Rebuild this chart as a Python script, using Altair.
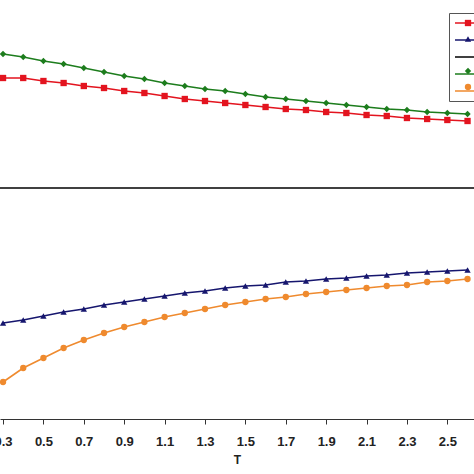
import altair as alt
import pandas as pd

# Horizon values
T = [0.3, 0.4, 0.5, 0.6, 0.7, 0.8, 0.9, 1.0, 1.1, 1.2, 1.3, 1.4,
     1.5, 1.6, 1.7, 1.8, 1.9, 2.0, 2.1, 2.2, 2.3, 2.4, 2.5, 2.6]

series_names = ["Series 1", "Series 2", "Series 3", "Series 4", "Series 5"]

red_vals = [1.10, 1.10, 1.07, 1.05, 1.02, 1.00, 0.97, 0.95, 0.92, 0.89, 0.87, 0.85,
            0.83, 0.81, 0.79, 0.78, 0.76, 0.75, 0.73, 0.72, 0.70, 0.69, 0.68, 0.67]
blue_vals = [-1.35, -1.32, -1.28, -1.24, -1.21, -1.17, -1.14, -1.11, -1.08, -1.05, -1.03, -1.00,
             -0.98, -0.97, -0.94, -0.93, -0.91, -0.90, -0.88, -0.87, -0.85, -0.84, -0.83, -0.82]
green_vals = [1.34, 1.31, 1.27, 1.24, 1.20, 1.16, 1.12, 1.09, 1.05, 1.02, 0.99, 0.97,
              0.94, 0.91, 0.89, 0.87, 0.85, 0.83, 0.81, 0.79, 0.78, 0.76, 0.75, 0.74]
orange_vals = [-1.94, -1.80, -1.70, -1.60, -1.52, -1.45, -1.39, -1.34, -1.29, -1.25, -1.21, -1.17,
               -1.14, -1.11, -1.09, -1.06, -1.04, -1.02, -1.00, -0.98, -0.97, -0.94, -0.93, -0.91]

# Constant reference level
flat_T = [0.2, 2.7]
flat_vals = [0.0, 0.0]

tick_values = [0.3, 0.5, 0.7, 0.9, 1.1, 1.3, 1.5, 1.7, 1.9, 2.1, 2.3, 2.5]

colors = ["#e3141f", "#16166e", "#000000", "#1d7d1d", "#ef8a2e"]
shapes = ["square", "triangle-up", "stroke", "diamond", "circle"]

rows = []
for name, vals in [(series_names[0], red_vals), (series_names[1], blue_vals),
                   (series_names[3], green_vals), (series_names[4], orange_vals)]:
    for t, v in zip(T, vals):
        rows.append({"T": t, "value": v, "series": name, "marker": name})
curves = pd.DataFrame(rows)
flat = pd.DataFrame({"T": flat_T, "value": flat_vals, "series": series_names[2]})
lines_df = pd.concat([curves, flat], ignore_index=True)

x = alt.X("T:Q",
          scale=alt.Scale(domain=[0.285, 2.632], nice=False, zero=False),
          axis=alt.Axis(values=tick_values, format=".1f", title="T"))
y = alt.Y("value:Q", scale=alt.Scale(domain=[-2.31, 1.88], nice=False, zero=False), axis=None)

line_legend = alt.Legend(orient="none", legendX=449, legendY=13, title=None,
                         symbolType="stroke", symbolSize=400, symbolStrokeWidth=1.6,
                         padding=5, clipHeight=10, rowPadding=6, labelOffset=12,
                         strokeColor="#555555", labelFontSize=11)
marker_legend = alt.Legend(orient="none", legendX=449, legendY=13, title=None,
                           symbolSize=40, padding=5, clipHeight=10, rowPadding=6,
                           symbolOffset=9, labelExpr="''")

lines = alt.Chart(lines_df).mark_line(clip=True, strokeWidth=1.6).encode(
    x=x, y=y,
    color=alt.Color("series:N", scale=alt.Scale(domain=series_names, range=colors),
                    legend=line_legend),
)

points = alt.Chart(curves).mark_point(filled=True, opacity=1, size=40, clip=True).encode(
    x=x, y=y,
    color=alt.Color("marker:N", scale=alt.Scale(domain=series_names, range=colors),
                    legend=marker_legend),
    shape=alt.Shape("marker:N", scale=alt.Scale(domain=series_names, range=shapes),
                    legend=marker_legend),
)

chart = alt.layer(lines, points).resolve_scale(
    color="independent", shape="independent"
).properties(
    width=474, height=419,
    padding={"left": 0, "top": 0, "right": 0, "bottom": 55},
    autosize=alt.AutoSizeParams(type="none"),
).configure_view(stroke=None).configure_axis(
    grid=False, domainColor="#333333", tickColor="#333333", tickSize=5,
    labelFont="Liberation Sans", labelFontWeight="bold", labelFontSize=13,
    labelColor="#222222", labelPadding=11, labelOverlap=False, labelFlush=False,
    labelBound=False,
    titleFont="Liberation Sans", titleFontWeight="bold", titleFontSize=12,
    titleColor="#222222", titlePadding=6,
)

chart.save("out.html", embed_options={"renderer": "svg", "actions": False})
